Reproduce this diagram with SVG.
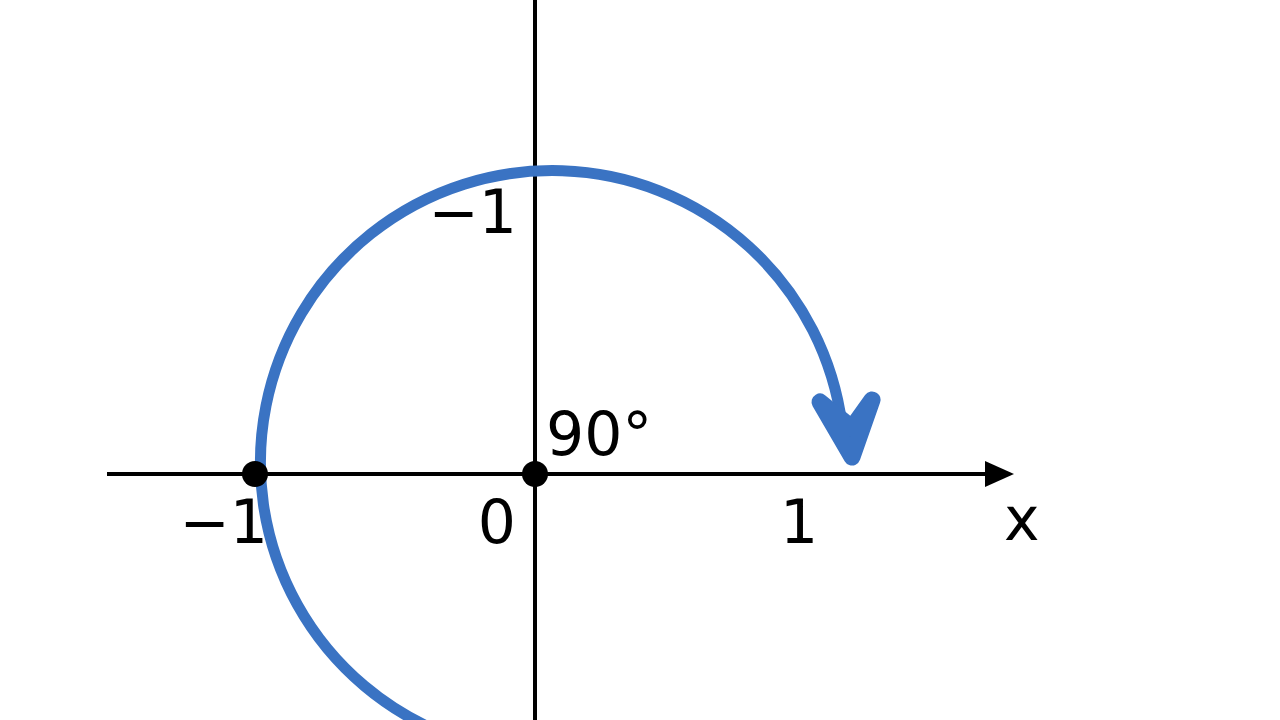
<svg xmlns="http://www.w3.org/2000/svg" width="1280" height="720" viewBox="0 0 1280 720">
<style>
.axis{stroke:#000;stroke-width:4;fill:none}
.lbl{font-family:"DejaVu Sans",sans-serif;font-size:60px;fill:#000}
.arc{stroke:#3a73c3;stroke-width:11;fill:none;stroke-linecap:round}
.head{fill:#3a73c3;stroke:#3a73c3;stroke-width:17;stroke-linejoin:round}
</style>
<rect width="1280" height="720" fill="#fff"/>
<g id="axes">
<line class="axis" x1="107" y1="474" x2="995" y2="474"/>
<polygon points="985,461 1014,474 985,487" fill="#000"/>
<line class="axis" x1="535" y1="0" x2="535" y2="720"/>
</g>
<g id="connectors">
<path class="arc" d="M 450 736 A 292 292 0 1 1 842 425"/>
<polygon class="head" points="820,402 852,428 872,400 852,457"/>
</g>
<g id="points">
<circle cx="255" cy="474" r="13" fill="#000"/>
<circle cx="535" cy="474" r="13" fill="#000"/>
</g>
<g id="labels">
<text class="lbl" x="517" y="233" text-anchor="end">−1</text>
<text class="lbl" x="268" y="543" text-anchor="end">−1</text>
<text class="lbl" x="516" y="543" text-anchor="end">0</text>
<text class="lbl" x="780" y="543">1</text>
<text class="lbl" x="1004" y="540" font-size="64">x</text>
<text class="lbl" x="546" y="455">90°</text>
</g>
</svg>
